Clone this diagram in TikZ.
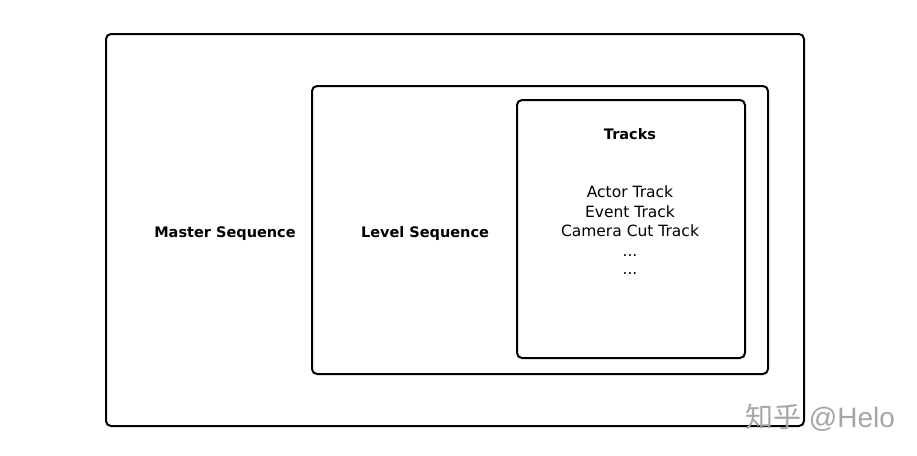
\documentclass[tikz,border=0pt]{standalone}
\usepackage{fontspec}
\setmainfont{DejaVu Sans}
\newfontfamily\cjkfont{Noto Sans CJK SC}
\newfontfamily\wmfont{Liberation Sans}
\begin{document}
\begin{tikzpicture}[x=1pt,y=-1pt,
  frame/.style={draw=black,line width=2pt,rounded corners=5pt},
  title/.style={font=\fontsize{14.5}{16}\selectfont\bfseries,anchor=base},
  item/.style={font=\fontsize{15.5}{18}\selectfont,anchor=base}]
\useasboundingbox[fill=white] (0,0) rectangle (917,455);
\node[frame,minimum width=698pt,minimum height=392pt,anchor=north west] (master) at (105,33) {};
\node[frame,minimum width=456pt,minimum height=288pt,anchor=north west] (level) at (311,85) {};
\node[frame,minimum width=228pt,minimum height=258pt,anchor=north west] (tracks) at (516,99) {};
\node[title] (mt) at (225,237) {Master Sequence};
\node[title] (lt) at (425,237) {Level Sequence};
\node[title] (tt) at (630,139) {Tracks};
\node[item] (a) at (630,197) {Actor Track};
\node[item] (e) at (630,217) {Event Track};
\node[item] (c) at (630,236) {Camera Cut Track};
\node[item] (d1) at (630,256) {...};
\node[item] (d2) at (630,274) {...};
\node[font=\fontsize{28}{30}\selectfont\wmfont,text=black!35,anchor=center] (wm) at (820,418) {{\cjkfont 知乎} @Helo};
\end{tikzpicture}
\end{document}
